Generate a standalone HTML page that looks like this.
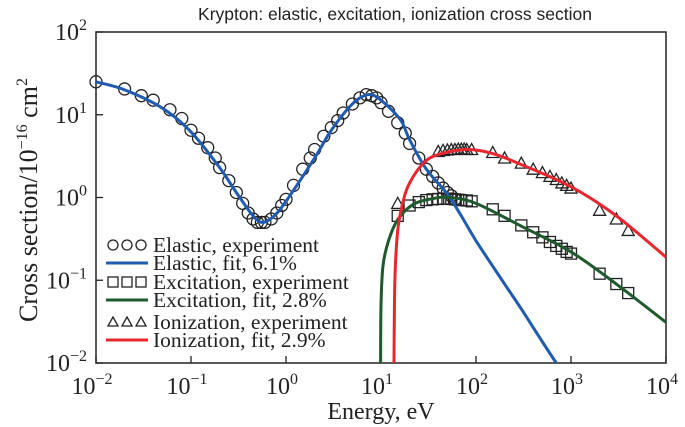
<!DOCTYPE html>
<html><head><meta charset="utf-8"><style>
html,body{margin:0;padding:0;background:#fff;}
svg{display:block;}
.tk{font-family:"Liberation Serif",serif;font-size:24px;fill:#222;}
.lg{font-family:"Liberation Serif",serif;font-size:21.5px;fill:#222;}
</style></head><body>
<svg id="chart" width="685" height="427" viewBox="0 0 685 427">
<text x="395" y="20" text-anchor="middle" font-family="Liberation Sans,sans-serif" font-size="17.5" fill="#222">Krypton: elastic, excitation, ionization cross section</text>
<rect x="96" y="32" width="570" height="331" fill="none" stroke="#222" stroke-width="1.5"/>
<g id="axes"></g>
<g id="series"></g>
<text transform="translate(37,200) rotate(-90)" text-anchor="middle" font-family="Liberation Serif,serif" font-size="26" fill="#222">Cross section/10<tspan dy="-10" font-size="16">−16</tspan><tspan dy="10"> cm</tspan><tspan dy="-10" font-size="16">2</tspan></text>
<text x="381" y="419" text-anchor="middle" class="tk">Energy, eV</text>
<g id="legend"></g>
</svg>
<script>
const xTickExp=[-2,-1,0,1,2,3,4];
const yTickExp=[-2,-1,0,1,2];
const elasticFitE=[0.01,0.02,0.05,0.1,0.2,0.3,0.45,0.57,0.75,1,2,3,5,7.3,10,16,20,30,50,70,100,200,300,500,700];
const elasticFitS=[25,20,12,6.2,2.3,1.15,0.6,0.5,0.6,0.9,3,6.5,13.5,17.5,15,8.7,5,2.2,1.1,0.6,0.3,0.09,0.045,0.018,0.01];
const excFitE=[9.9,10,10.5,12,15,22,35,53,100,300,1000,3000,10000];
const excFitS=[0.01,0.05,0.15,0.3,0.54,0.83,0.97,1.0,0.85,0.45,0.22,0.09,0.031];
const ionFitE=[13.7,14,15,17,20,28,40,80,150,300,1000,3000,10000];
const ionFitS=[0.01,0.1,0.4,0.87,1.5,2.6,3.3,3.8,3.4,2.5,1.35,0.6,0.19];
const elasticExpE=[0.01,0.02,0.03,0.04,0.06,0.08,0.1,0.12,0.15,0.18,0.2,0.25,0.3,0.35,0.4,0.45,0.5,0.55,0.6,0.7,0.8,0.9,1,1.2,1.5,1.8,2,2.5,3,3.5,4,5,6,7,8,9,10,12,15,18,20,25,30,35,40,45,50,55,60];
const elasticExpS=[25,20.5,17,15,11.5,9,6.5,5.2,4,3,2.3,1.6,1.15,0.85,0.65,0.55,0.5,0.5,0.5,0.55,0.65,0.8,0.95,1.4,2.2,3,3.8,5.5,7,8.5,10.5,13.5,16,17.5,17,16,14,11,8,6,4.5,3,2.2,1.8,1.5,1.3,1.15,1.05,0.95];
const excExpE=[15,20,25,30,35,40,45,50,55,60,65,70,80,90,150,200,300,400,500,600,700,800,900,1000,2000,3000,4000];
const excExpS=[0.6,0.8,0.88,0.93,0.95,0.96,0.97,0.97,0.96,0.95,0.94,0.93,0.92,0.9,0.72,0.6,0.46,0.38,0.33,0.29,0.26,0.24,0.22,0.21,0.12,0.09,0.07];
const ionExpE=[15,40,45,50,55,60,65,70,75,80,90,150,200,300,400,500,600,700,800,900,1000,2000,3000,4000];
const ionExpS=[0.85,3.6,3.7,3.75,3.8,3.8,3.85,3.85,3.85,3.8,3.8,3.5,3.0,2.6,2.2,2.0,1.8,1.65,1.5,1.4,1.3,0.7,0.55,0.4];

const X0=96,X1=666,Y0=363,Y1=32;
const xs=e=>X0+(Math.log10(e)+2)/6*(X1-X0);
const ys=v=>Y0-(Math.log10(v)+2)/4*(Y0-Y1);
const NS="http://www.w3.org/2000/svg";
function mk(tag,attrs,parent){const el=document.createElementNS(NS,tag);for(const k in attrs)el.setAttribute(k,attrs[k]);parent.appendChild(el);return el;}
const axes=document.getElementById('axes');
xTickExp.forEach(p=>{const x=xs(Math.pow(10,p));
 const t=mk('line',{x1:x,x2:x,y1:Y0,y2:Y0-7,stroke:'#222','stroke-width':1.3},axes);
 
 
 const l=mk('text',{x:x-4,y:394,'text-anchor':'middle',class:'tk'},axes);
 
 
 l.innerHTML='10<tspan dy="-10" font-size="16">'+(p<0?'−'+(-p):p)+'</tspan>';});
yTickExp.forEach(p=>{const y=ys(Math.pow(10,p));
 const t=mk('line',{x1:X0,x2:X0+7,y1:y,y2:y,stroke:'#222','stroke-width':1.3},axes);
 
 
 const l=mk('text',{x:87,y:y+8,'text-anchor':'end',class:'tk'},axes);
 
 
 l.innerHTML='10<tspan dy="-10" font-size="16">'+(p<0?'−'+(-p):p)+'</tspan>';});

function curve(E,S){const p=E.map((e,i)=>[xs(e),ys(S[i])]);let d='M'+p[0][0]+','+p[0][1];
 for(let i=0;i<p.length-1;i++){const a=p[Math.max(0,i-1)],b=p[i],c=p[i+1],n=p[Math.min(p.length-1,i+2)];
  const c1=[b[0]+(c[0]-a[0])/6,b[1]+(c[1]-a[1])/6],c2=[c[0]-(n[0]-b[0])/6,c[1]-(n[1]-b[1])/6];
  d+=' C'+c1+' '+c2+' '+c;}return d;}
const ser=document.getElementById('series');
function marker(type,x,y,g){
 if(type==='circle')return mk('circle',{cx:x,cy:y,r:6,fill:'none',stroke:'#222','stroke-width':1.3},g);
 if(type==='square')return mk('rect',{x:x-5.5,y:y-5.5,width:11,height:11,fill:'none',stroke:'#222','stroke-width':1.3},g);
 return mk('path',{d:`M${x},${y-6}L${x+6},${y+5}L${x-6},${y+5}Z`,fill:'none',stroke:'#222','stroke-width':1.3},g);}
function expSeries(E,S,type,name){const g=mk('g',{},ser);
 
 
 E.forEach((e,i)=>{const m=marker(type,xs(e),ys(S[i]),g);
  
  });}
expSeries(elasticExpE,elasticExpS,'circle','elastic-experiment');
expSeries(excExpE,excExpS,'square','excitation-experiment');
expSeries(ionExpE,ionExpS,'tri','ionization-experiment');
const clip=mk('clipPath',{id:'pc'},ser);mk('rect',{x:X0,y:Y1,width:X1-X0,height:Y0-Y1},clip);
function fit(E,S,col,name){const p=mk('path',{d:curve(E,S),fill:'none',stroke:col,'stroke-width':3,'clip-path':'url(#pc)'},ser);
 
 }
fit(elasticFitE,elasticFitS,'#1f5bb0','elastic-fit-line');
fit(excFitE,excFitS,'#1e5a2c','excitation-fit-line');
fit(ionFitE,ionFitS,'#e8262e','ionization-fit-line');

const lg=document.getElementById('legend');
const items=[['circle','Elastic, experiment'],['#1f5bb0','Elastic, fit, 6.1%'],['square','Excitation, experiment'],['#1e5a2c','Excitation, fit, 2.8%'],['tri','Ionization, experiment'],['#e8262e','Ionization, fit, 2.9%']];
const rowsY=[245,263,282,300,322,340];
items.forEach((it,i)=>{const y=rowsY[i];const g=mk('g',{},lg);
 
 
 mk('rect',{x:104,y:y-9,width:46,height:18,fill:'#fff'},g);
 if(it[0][0]==='#')mk('line',{x1:106,x2:148,y1:y,y2:y,stroke:it[0],'stroke-width':3},g);
 else [113,127,141].forEach(x=>{if(it[0]==='circle')mk('circle',{cx:x,cy:y,r:5,fill:'none',stroke:'#222','stroke-width':1.3},g);
  else if(it[0]==='square')mk('rect',{x:x-5,y:y-5,width:10,height:10,fill:'none',stroke:'#222','stroke-width':1.3},g);
  else mk('path',{d:`M${x},${y-5}L${x+5},${y+4}L${x-5},${y+4}Z`,fill:'none',stroke:'#222','stroke-width':1.3},g);});
 const t=mk('text',{x:153,y:y+7,class:'lg'},g);t.textContent=it[1];});
</script>
</body></html>
